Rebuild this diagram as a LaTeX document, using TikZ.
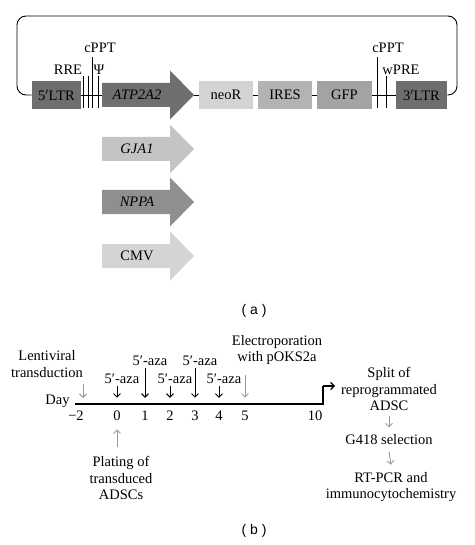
\documentclass[tikz,border=0pt]{standalone}
\usepackage{fontspec}
\setmainfont{Liberation Serif}
\newfontfamily\capfont{Liberation Sans}
\usetikzlibrary{positioning,arrows.meta,calc}

\begin{document}
\begin{tikzpicture}[x=1pt, y=-1pt, font=\fontsize{14.5}{16.5}\selectfont, line width=0.9pt,
  >={Straight Barb[length=3.5pt, width=7pt]},
  lab/.style={inner sep=0pt, align=center},
  blk/.style={lab, minimum height=28pt},
  site/.style={line width=1pt},
  karr/.style={->, black},
  garr/.style={->, arrgray},
  panel/.style={lab, font=\capfont\fontsize{14}{16}\selectfont},
]
\definecolor{ltr}{HTML}{6E6E6E}
\definecolor{atp}{HTML}{6F6F6F}
\definecolor{gja}{HTML}{C4C4C4}
\definecolor{nppa}{HTML}{8F8F8F}
\definecolor{cmv}{HTML}{D4D4D4}
\definecolor{neo}{HTML}{D3D3D3}
\definecolor{ires}{HTML}{B3B3B3}
\definecolor{gfp}{HTML}{A3A3A3}
\definecolor{arrgray}{HTML}{999999}
\useasboundingbox (0,0) rectangle (474,545);

% ---------------- (a) Vector ----------------
\node[blk, fill=ltr, minimum width=49pt] (ltr5) at (56.5,95) {5$'$LTR};
\node[blk, fill=neo,  minimum width=54pt] (neo)  at (226,95)   {neoR};
\node[blk, fill=ires, minimum width=54pt] (ires) at (285,95)   {IRES};
\node[blk, fill=gfp,  minimum width=55pt] (gfp)  at (344.5,95) {GFP};
\node[blk, fill=ltr,  minimum width=51pt] (ltr3) at (421.5,95) {3$'$LTR};
% gene cassettes
\foreach \y/\col/\name/\txt in {95/atp/atp/{\itshape ATP2A2}, 149/gja/gja/{\itshape GJA1},
                                202/nppa/nppa/{\itshape NPPA}, 256/cmv/cmv/CMV} {
  \fill[\col] (102,\y-12) -- (170,\y-12) -- (170,\y-24.5) -- (194,\y)
              -- (170,\y+24.5) -- (170,\y+12) -- (102,\y+12) -- cycle;
  \node[lab] (\name) at (137,\y) {\txt};
}
\coordinate (atpin)  at (102,95);
\coordinate (atptip) at (194,95);
% backbone and loop
\draw (ltr5.east) -- (atpin);
\draw (atptip) -- (neo.west);
\draw (neo) -- (ires);
\draw (ires) -- (gfp);
\draw (gfp) -- (ltr3);
\draw[rounded corners=9pt] (ltr5.west) -- (17,95) -- (17,16) -- (457,16) -- (457,95) -- (ltr3.east);
% sites
\foreach \x/\t in {83/76, 88/76, 92/57, 98/76, 377/57, 386/76}
  \draw[site] (\x,\t) -- (\x,108);
\node[lab] (rre)   at (68,70)  {RRE};
\node[lab] (cppt1) at (100,48) {cPPT};
\node[lab] (psi)   at (99,70)  {Ψ};
\node[lab] (cppt2) at (388,48) {cPPT};
\node[lab] (wpre)  at (401,70) {wPRE};
\node[panel] (capa) at (254,311) {( a )};

% ---------------- (b) Protocol ----------------
\coordinate (tl0) at (75,404);
\coordinate (tl1) at (323,404);
\coordinate (tl2) at (323,386);
\coordinate (tl3) at (335,386);
\draw[line width=1.2pt] (tl0) -- (tl1) -- (tl2);
\draw[->, line width=1.2pt] (tl2) -- (tl3);
\node[lab, anchor=east] (day) at (70,401) {Day};
\node[lab] (dm2) at (76,416)  {−2};
\node[lab] (d5)  at (245,416) {5};
\node[lab] (d10) at (315,416) {10};
% 5'-aza days
\foreach \d/\x/\ly in {0/117/379, 1/145/361, 2/170/379, 3/195/361, 4/219/379} {
  \node[lab] (d\d) at (\x,416) {\d};
  \node[lab] (aza\d) at (\x+5,\ly) {5′-aza};
  \draw[karr] ([yshift=-2pt]aza\d.south -| d\d) -- ([yshift=13pt]d\d.north);
}
\node[lab] (lenti) at (47,364) {Lentiviral\\transduction};
\coordinate (lentiend) at (83,398);
\draw[garr] ([yshift=-6pt]lentiend |- lenti.south) -- (lentiend);
\node[lab] (elec) at (277,350) {Electroporation\\with pOKS2a};
\draw[garr] ([yshift=-10pt]elec.south -| d5) -- ([yshift=13pt]d5.north);
\node[lab] (plate) at (121,478) {Plating of\\transduced\\ADSCs};
\draw[garr] ([yshift=9pt]plate.north -| d0) -- ([yshift=-8pt]d0.south);
\node[lab] (split) at (389,389) {Split of\\reprogrammated\\ADSC};
\node[lab] (sel)   at (389,440) {G418 selection};
\node[lab] (rt)    at (391,487) {RT-PCR and\\immunocytochemistry};
\draw[garr] ([yshift=-5pt]split.south) -- ([yshift=7pt]sel.north);
\draw[garr] ([yshift=-6pt]sel.south) -- ([yshift=7pt]rt.north);
\node[panel] (capb) at (254,531) {( b )};
\end{tikzpicture}
\end{document}
